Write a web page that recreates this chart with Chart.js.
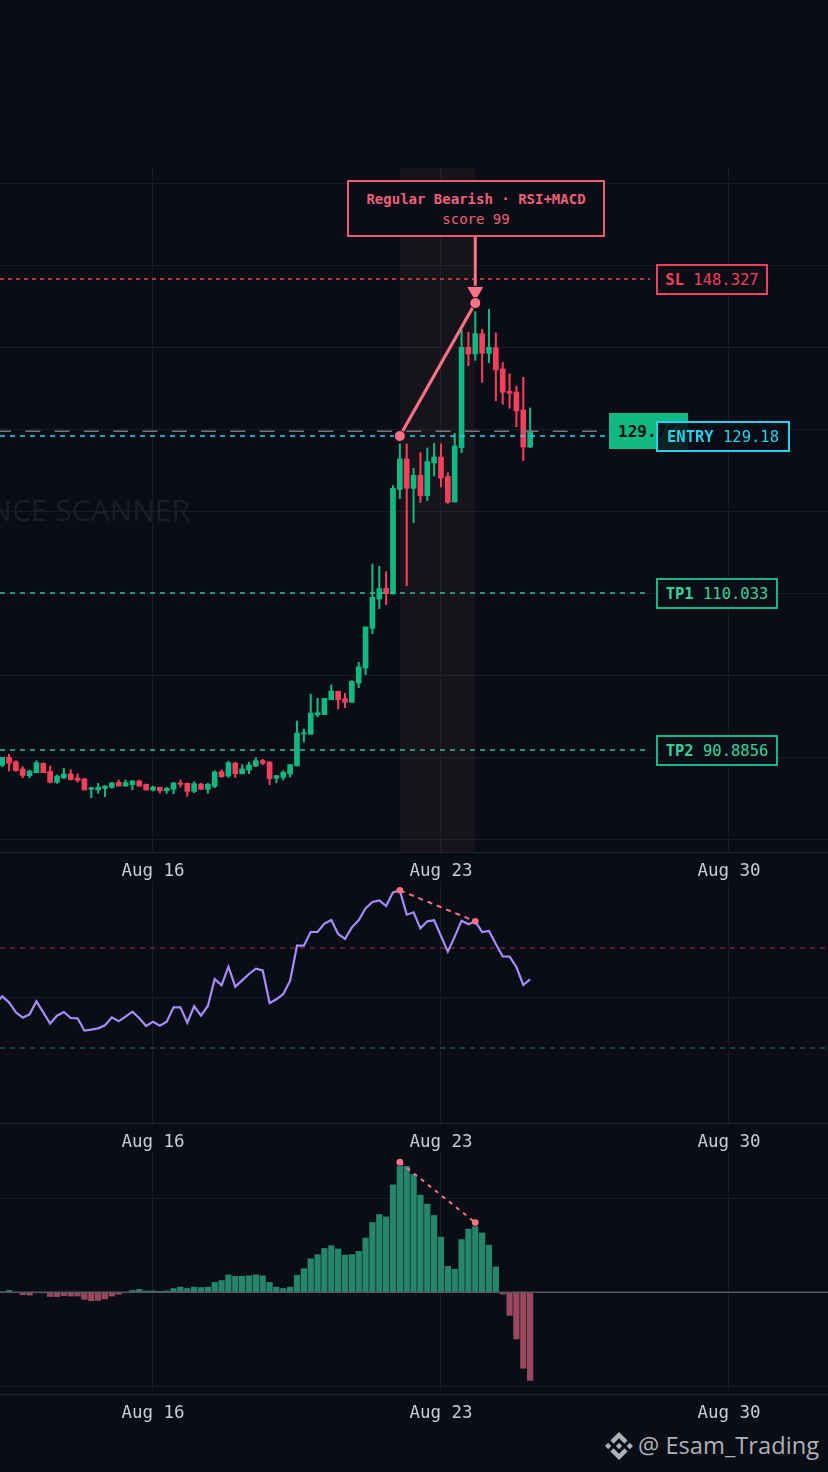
<!DOCTYPE html>
<html>
<head>
<meta charset="utf-8">
<title>Chart</title>
<script src="https://cdn.jsdelivr.net/npm/chart.js@4/dist/chart.umd.js"></script>
<style>
html,body{margin:0;padding:0;background:#0a0d16;width:828px;height:1472px;overflow:hidden;position:relative}
canvas{position:absolute;left:0}
.tag{position:absolute;box-sizing:border-box;font-family:"DejaVu Sans Mono",monospace;white-space:pre;background:#0a0d16;display:flex;align-items:center;justify-content:center}
#wm{position:absolute;right:638px;top:489px;font:30px "Open Sans",sans-serif;color:#1b1e27;white-space:nowrap}
#credit{position:absolute;left:638px;top:1429px;font:23.7px "Open Sans",sans-serif;color:#aeb1b6;white-space:nowrap}
</style>
</head>
<body>
<div id="wm">BINANCE SCANNER</div>
<canvas id="mainC" width="828" height="714" style="top:168px"></canvas>
<canvas id="rsiC" width="828" height="272" style="top:881px"></canvas>
<canvas id="macdC" width="828" height="272" style="top:1152px"></canvas>

<div class="tag" style="left:609px;top:413px;width:79px;height:36px;background:#10b981;color:#0a0d16;font-weight:bold;font-size:16px;justify-content:flex-start;padding-left:9px">129.76</div>
<div class="tag" style="left:347px;top:180px;width:258px;height:57px;border:2px solid #ec5a75;flex-direction:column;color:#f0607a;font-size:14px"><b style="line-height:20px">Regular Bearish · RSI+MACD</b><span style="line-height:20px">score 99</span></div>
<div class="tag" style="left:656px;top:264px;width:112px;height:31px;border:2px solid #f43f5e;color:#f43f5e;font-size:15.5px"><span><b>SL</b> 148.327</span></div>
<div class="tag" style="left:656px;top:421px;width:134px;height:31px;border:2px solid #22d3ee;color:#22d3ee;font-size:15.5px;background:rgba(10,13,22,.88)"><span><b>ENTRY</b> 129.18</span></div>
<div class="tag" style="left:656px;top:578px;width:122px;height:31px;border:2px solid #10b981;color:#34d399;font-size:15.5px"><span><b>TP1</b> 110.033</span></div>
<div class="tag" style="left:656px;top:735px;width:122px;height:31px;border:2px solid #10b981;color:#34d399;font-size:15.5px"><span><b>TP2</b> 90.8856</span></div>

<svg style="position:absolute;left:605px;top:1432px" width="28" height="28" viewBox="0 0 126.61 126.61" fill="#aeb1b6"><path d="m38.73 53.2 24.59-24.58 24.6 24.6 14.3-14.31L63.32 0 24.42 38.9z"/><path d="m0 63.31 14.3-14.31 14.31 14.31-14.31 14.3z"/><path d="m38.73 73.41 24.59 24.59 24.6-24.6 14.31 14.29-38.9 38.91-38.91-38.88z"/><path d="m98 63.31 14.3-14.31 14.31 14.3-14.31 14.32z"/><path d="m77.83 63.3-14.51-14.52-10.73 10.73-1.24 1.23-2.54 2.54 14.51 14.5 14.51-14.47z"/></svg>
<div id="credit">@ Esam_Trading</div>

<script>
// ---- data ----
const firstBar = -22;           // bar index 0 is Aug 16 (six 4h bars per day)
const tickBars = [0, 42, 84];
const tickLabels = ["Aug 16", "Aug 23", "Aug 30"];

const opens = [89.02,89.99,89.46,88.57,87.75,88.12,89.26,88.28,86.94,87.47,87.96,87.47,87.35,86.09,86.01,86.21,86.33,86.94,86.49,86.66,87.10,86.70,
86.01,86.33,85.92,86.09,86.86,86.82,85.84,86.74,86.09,86.45,88.24,87.71,89.30,87.99,88.44,88.93,89.58,89.42,87.43,87.55,87.96,
88.94,92.84,92.80,95.16,95.20,97.03,98.04,97.15,96.70,99.06,100.89,105.73,109.30,110.61,109.92,
122.68,126.38,122.80,124.39,121.91,125.89,126.62,124.23,121.14,127.76,140.00,139.19,141.66,139.27,139.96,137.36,134.63,134.55,132.36,127.84];
const highs = [89.99,90.36,89.58,88.85,88.44,89.58,89.30,88.93,87.83,88.65,88.48,87.96,87.43,86.33,86.82,86.53,86.94,87.23,87.23,87.18,87.23,86.74,
86.49,86.37,86.33,86.94,87.23,86.86,87.02,86.82,86.82,88.36,88.48,89.54,89.38,89.09,89.38,89.95,89.74,89.46,87.79,88.36,89.13,
94.42,93.45,97.68,97.19,97.19,98.82,98.08,97.80,99.35,101.58,105.89,113.57,113.29,112.64,123.13,
128.21,128.21,125.24,127.15,127.72,128.29,128.21,124.71,129.51,142.11,141.83,144.35,142.19,144.63,141.75,138.17,136.75,135.28,136.34,132.60];
const lows = [88.85,88.32,88.28,87.51,87.51,88.12,88.12,86.86,86.82,87.39,87.23,86.98,86.01,85.07,85.60,85.19,86.21,86.49,86.45,86.05,86.45,86.01,
85.88,85.64,85.60,85.56,86.37,85.23,85.68,86.09,85.60,86.29,87.55,87.55,87.55,87.96,87.99,88.85,89.09,86.66,86.90,87.23,87.59,
88.94,91.86,92.80,94.91,95.20,97.03,95.89,96.05,96.70,98.49,100.08,105.08,108.13,108.61,109.92,
121.54,110.93,118.62,121.06,121.30,124.31,122.97,120.97,121.14,127.15,137.76,138.41,135.73,138.13,133.49,133.05,132.56,130.32,126.18,127.76];
const closes = [89.99,89.26,88.36,87.79,88.32,89.34,88.12,86.94,87.71,87.96,87.26,87.18,86.01,86.29,86.33,86.49,86.86,86.49,86.90,87.10,86.49,86.01,
86.37,85.92,86.21,86.86,86.70,85.84,86.78,86.09,86.70,88.20,87.63,89.34,87.99,88.57,89.05,89.58,89.26,87.39,87.75,88.16,89.09,
92.96,93.00,95.40,95.44,97.19,98.08,97.03,96.70,99.26,101.01,105.89,109.51,110.56,109.95,122.80,
126.38,122.80,124.39,121.91,126.06,126.62,124.06,121.10,127.97,140.00,139.19,141.66,139.27,140.00,137.23,134.51,134.39,132.23,127.84,129.79];

const rsiFirstBar = -23;
const rsiValues = [47.6,50.67,48.27,44.27,42.13,43.47,48.67,44.27,39.73,42.93,44.4,42.0,41.87,36.93,37.33,37.87,39.07,42.27,40.67,42.53,44.53,41.87,38.8,
40.53,38.93,40.53,46.27,46.27,40.13,46.67,42.93,46.8,57.6,55.07,62.53,54.53,57.07,59.6,61.73,61.07,48.0,49.47,51.6,56.93,
70.93,70.93,76.4,76.4,79.73,81.2,75.6,73.6,78.27,81.07,85.87,88.4,89.07,86.8,92.27,93.07,83.33,84.27,77.87,80.67,81.07,74.8,68.53,74.53,80.93,79.47,80.67,76.4,76.8,71.6,66.67,66.53,62.4,55.2,57.47];

const macdHist = [0.01,0.04,0,-0.05,-0.06,-0.01,-0.01,-0.09,-0.09,-0.07,-0.08,-0.08,-0.15,-0.18,-0.17,-0.14,-0.08,-0.04,-0.01,0.04,0.06,0.03,
0.03,0.02,0.03,0.08,0.11,0.08,0.11,0.10,0.11,0.21,0.25,0.37,0.34,0.34,0.35,0.37,0.35,0.21,0.11,0.08,0.11,
0.36,0.50,0.71,0.80,0.93,0.99,0.92,0.79,0.80,0.87,1.15,1.48,1.65,1.60,2.28,2.67,2.67,2.50,2.06,1.87,1.63,1.17,0.55,0.49,1.12,1.34,1.39,1.26,1.00,0.54,-0.04,-0.49,-0.99,-1.61,-1.87];

const divergenceBars = [36, 47];
const divergencePrice = [129.18, 145.4];
const divergenceRsi = [93.07, 80.67];
const divergenceMacd = [2.76, 1.48];
const arrowPrice = [153.45, 147.5];
const arrowHeadPrice = 146.79;

const slLevel = 148.327, entryLevel = 129.18, tp1Level = 110.033, tp2Level = 90.8856, lastPrice = 129.76;
const levelEndSl = 72.5, levelEndEntry = 73.4, levelEndLast = 66.6;

const priceTicks = [80,90,100,110,120,130,140,150,160];
const rsiTicks = [50];
const rsiUpper = 70, rsiLower = 30;
const macdTicks = [-2,0,2];

// ---- styles ----
const GREEN="#10b981", RED="#f43f5e", PINK="#fb7185", GRID="#181c26", LABEL="#c9ccd2";
const X_MIN=-22.313, X_MAX=98.44;

function xAxis(){
  return {type:"linear",min:X_MIN,max:X_MAX,offset:false,
    afterBuildTicks(a){a.ticks=tickBars.map(v=>({value:v}));},
    afterFit(a){a.height=30;},
    grid:{color:GRID,lineWidth:1,drawTicks:false,offset:false},
    border:{display:true,color:"#1f2330"},
    ticks:{autoSkip:false,maxRotation:0,padding:9,color:LABEL,font:{family:"DejaVu Sans Mono",size:17.5},
      callback(v){return tickLabels[tickBars.indexOf(v)]||"";}}};
}
function yAxis(min,max,list){
  return {type:"linear",min,max,
    afterBuildTicks(a){a.ticks=list.map(v=>({value:v}));},
    afterFit(a){a.width=0;},
    grid:{color:GRID,lineWidth:1,drawTicks:false},
    border:{display:false},
    ticks:{display:false}};
}
function baseOptions(min,max,list){
  return {responsive:false,animation:false,devicePixelRatio:1,
    layout:{padding:0,autoPadding:false},
    plugins:{legend:{display:false},tooltip:{enabled:false}},
    scales:{x:xAxis(),y:yAxis(min,max,list)}};
}
function levelLine(y,color,dash,end,order,offset){
  return {type:"line",data:[{x:X_MIN,y},{x:end,y}],borderColor:color,borderWidth:1.5,borderDash:dash,borderDashOffset:offset||0,pointRadius:0,order};
}

const shadePlugin={id:"shade",beforeDatasetsDraw(c){
  const {ctx,chartArea:a,scales:{x}}=c;
  const l=x.getPixelForValue(divergenceBars[0]),r=x.getPixelForValue(divergenceBars[1]);
  ctx.save();ctx.fillStyle="rgba(255,130,130,0.05)";ctx.fillRect(l,a.top,r-l,a.bottom-a.top);ctx.restore();
}};

const barX=opens.map((_,k)=>firstBar+k);
const isUp=k=>closes[k]>=opens[k];

new Chart(document.getElementById("mainC"),{
  type:"bar",
  data:{datasets:[
    {label:"wick",grouped:false,order:5,barThickness:1.4,borderWidth:0,
      data:barX.map((x,k)=>({x,y:[lows[k],highs[k]]})),
      backgroundColor:barX.map((_,k)=>isUp(k)?GREEN:RED)},
    {label:"body",grouped:false,order:4,barThickness:5,borderWidth:0,
      data:barX.map((x,k)=>({x,y:[Math.min(opens[k],closes[k]),Math.max(opens[k],closes[k])]})),
      backgroundColor:barX.map((_,k)=>isUp(k)?GREEN:RED)},
    levelLine(slLevel,RED,[4,4],levelEndSl,3),
    levelLine(lastPrice,"#74777f",[15,14.3],levelEndLast,3,4),
    levelLine(entryLevel,"#22d3ee",[5,5],levelEndEntry,2),
    levelLine(tp1Level,"#2fbf94",[5,5],levelEndSl,3),
    levelLine(tp2Level,"#2fbf94",[5,5],levelEndSl,3),
    {type:"line",label:"divergence",order:1,data:divergenceBars.map((x,k)=>({x,y:divergencePrice[k]})),
      borderColor:PINK,borderWidth:3.2,pointRadius:5.5,pointBackgroundColor:PINK,pointBorderColor:"#0a0d16",pointBorderWidth:1},
    {type:"line",label:"arrow",order:1,data:arrowPrice.map(y=>({x:divergenceBars[1],y})),
      borderColor:PINK,borderWidth:3,pointRadius:0},
    {type:"line",label:"arrowHead",order:1,data:[{x:divergenceBars[1],y:arrowHeadPrice}],showLine:false,
      pointStyle:"triangle",pointRadius:9.2,rotation:180,pointRotation:180,pointBackgroundColor:PINK,pointBorderWidth:0}
  ]},
  options:baseOptions(78.445,161.866,priceTicks),
  plugins:[shadePlugin]
});

new Chart(document.getElementById("rsiC"),{
  type:"line",
  data:{datasets:[
    levelLine(rsiUpper,"#6e2436",[5,5],X_MAX,3),
    levelLine(rsiLower,"#1c5a4b",[5,5],X_MAX,3),
    {label:"RSI",order:2,data:rsiValues.map((y,k)=>({x:rsiFirstBar+k,y})),borderColor:"#a78bfa",borderWidth:2.2,pointRadius:0,tension:0},
    {label:"div",order:1,data:divergenceBars.map((x,k)=>({x,y:divergenceRsi[k]})),borderColor:PINK,borderWidth:2,borderDash:[5,5],
      pointRadius:3.3,pointBackgroundColor:PINK,pointBorderWidth:0}
  ]},
  options:baseOptions(0,96.8,rsiTicks)
});

new Chart(document.getElementById("macdC"),{
  type:"bar",
  data:{datasets:[
    {label:"hist",order:3,grouped:false,barThickness:5.6,borderWidth:0,
      data:macdHist.map((y,k)=>({x:firstBar+k,y})),
      backgroundColor:macdHist.map(v=>v>=0?"#26866a":"#99485f")},
    levelLine(0,"#555862",[],X_MAX,2),
    {type:"line",label:"div",order:1,data:divergenceBars.map((x,k)=>({x,y:divergenceMacd[k]})),borderColor:PINK,borderWidth:2,borderDash:[4,5],
      pointRadius:3.4,pointBackgroundColor:PINK,pointBorderWidth:0}
  ]},
  options:baseOptions(-2.157,2.976,macdTicks)
});
</script>
</body>
</html>
